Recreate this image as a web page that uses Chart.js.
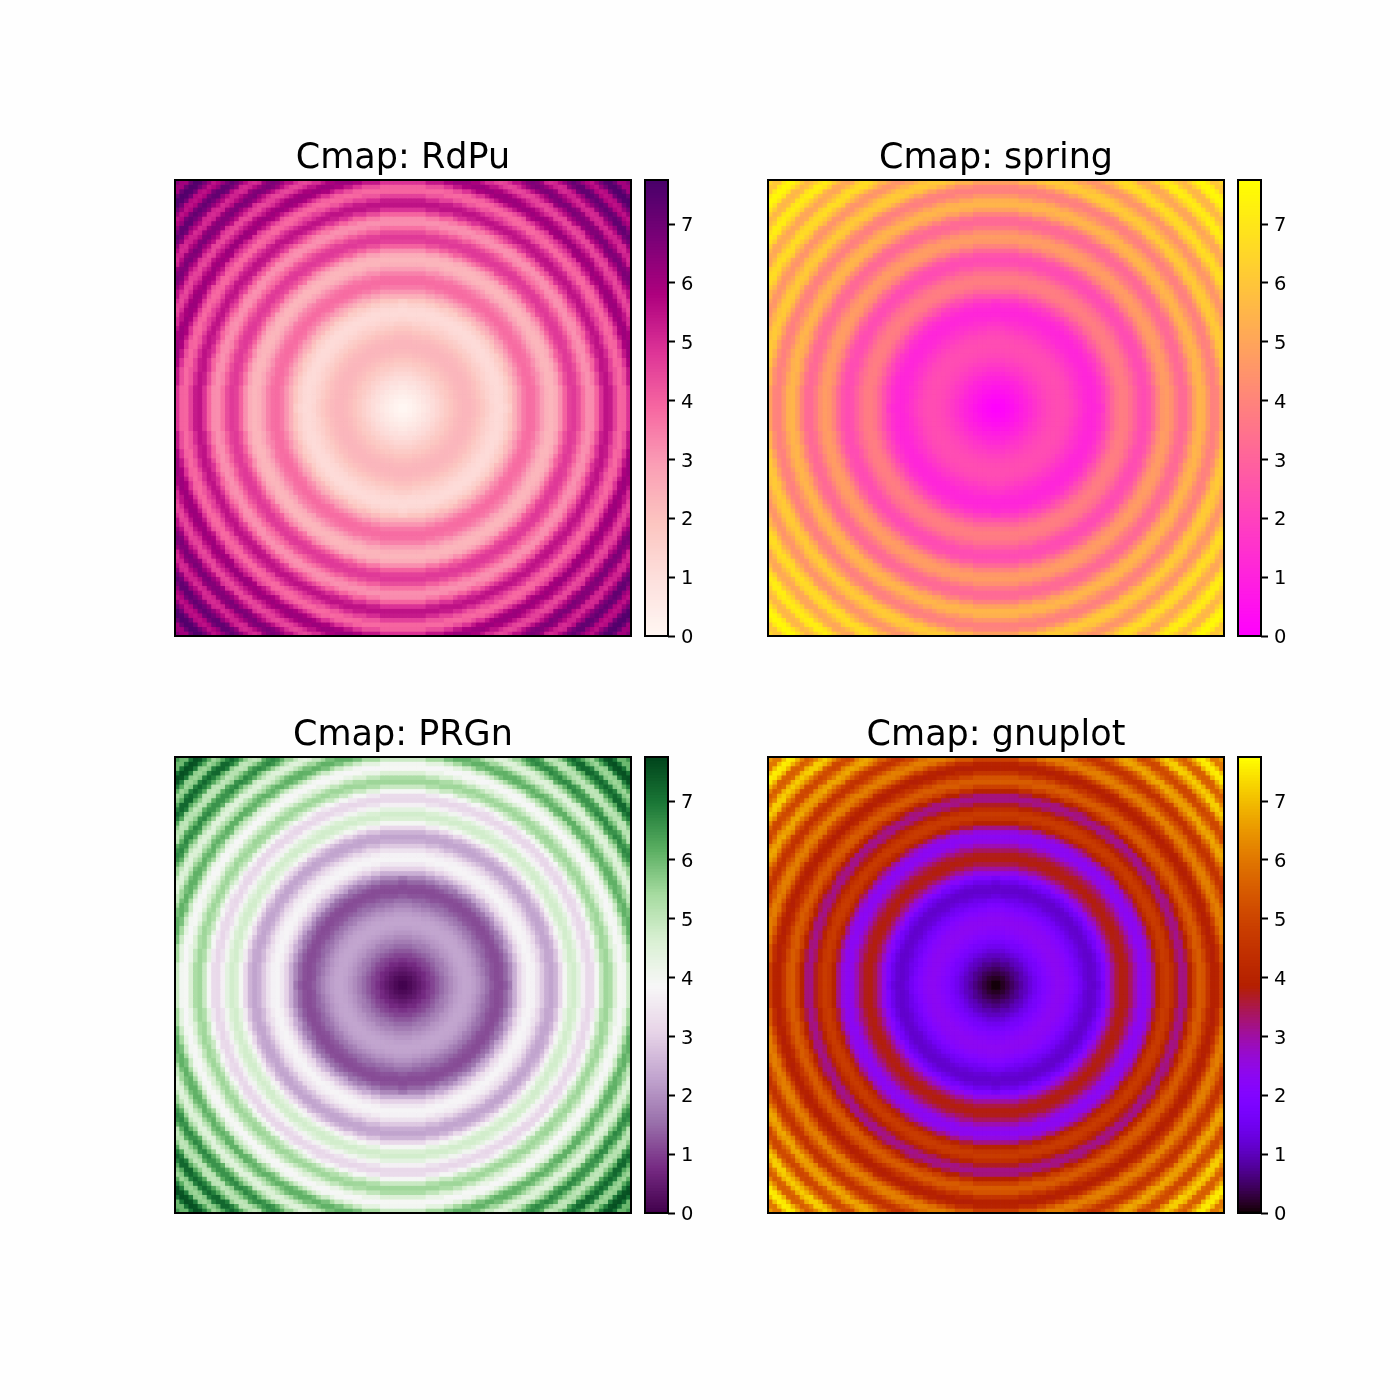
<!DOCTYPE html>
<html>
<head>
<meta charset="utf-8">
<script src="https://cdn.jsdelivr.net/npm/chart.js@4"></script>
<style>
html,body{margin:0;padding:0;background:#fefefe;width:1400px;height:1400px;overflow:hidden}
canvas{position:absolute;display:block}
</style>
</head>
<body>
<script>
// Panel titles and colour map names
const titles = ['Cmap: RdPu', 'Cmap: spring', 'Cmap: PRGn', 'Cmap: gnuplot'];
const colorbarTicks = [0, 1, 2, 3, 4, 5, 6, 7];
const valueMax = 7.75;
const gridCells = 100;
// Grid spacing of a cell in the units of the radial table
const cellUnit = 10 / 99;
const profileStep = 0.05;

// Value read along a radius, one entry per profileStep
const radialProfile = [
0,.05,.11,.17,.24,.31,.39,.47,.56,.65,.75,.85,.95,1.06,1.17,1.28,1.40,1.51,1.62,1.73,
1.84,1.94,2.04,2.12,2.19,2.25,2.29,2.32,2.33,2.31,2.28,2.22,2.15,2.06,1.95,1.83,1.70,1.57,1.45,1.34,
1.24,1.18,1.15,1.15,1.21,1.31,1.46,1.66,1.90,2.17,2.47,2.77,3.06,3.32,3.55,3.71,3.80,3.81,3.75,3.62,
3.41,3.17,2.92,2.67,2.47,2.34,2.31,2.38,2.55,2.83,3.19,3.59,3.98,4.34,4.60,4.75,4.75,4.62,4.38,4.05,
3.71,3.41,3.21,3.15,3.26,3.54,3.95,4.42,4.89,5.27,5.49,5.51,5.34,5.01,4.60,4.21,3.93,3.85,4.00,4.36,
4.87,5.41,5.87,6.13,6.14,5.90,5.48,5.01,4.63,4.46,4.58,4.97,5.54,6.14,6.58,6.75,6.59,6.18,5.65,5.20,
5.01,5.16,5.63,6.27,6.88,7.23,7.21,6.85,6.28,5.76,5.51,5.67,6.19,6.89,7.49,7.75,7.57,7.05,6.43,6.02,
6.05,6.52,7.24
];

// Colour map anchor tables
const rdpuStops = ['#fff7f3','#fde0dd','#fcc5c0','#fa9fb5','#f768a1','#dd3497','#ae017e','#7a0177','#49006a'];
const springStops = ['#ff00ff','#ffff00'];
const prgnStops = ['#40004b','#762a83','#9970ab','#c2a5cf','#e7d4e8','#f7f7f7','#d9f0d3','#a6dba0','#5aae61','#1b7837','#00441b'];

function hexRgb(h){return [parseInt(h.slice(1,3),16),parseInt(h.slice(3,5),16),parseInt(h.slice(5,7),16)];}
function fromStops(stops){
  const rgb = stops.map(hexRgb);
  return t => {
    const p = Math.min(Math.max(t,0),1)*(rgb.length-1);
    const i = Math.min(Math.floor(p), rgb.length-2), f = p-i;
    return `rgb(${[0,1,2].map(k=>Math.round(rgb[i][k]+(rgb[i+1][k]-rgb[i][k])*f)).join(',')})`;
  };
}
function gnuplotMap(t){
  t = Math.min(Math.max(t,0),1);
  const r = Math.sqrt(t), g = t*t*t, b = Math.max(Math.sin(2*Math.PI*t),0);
  return `rgb(${Math.round(r*255)},${Math.round(g*255)},${Math.round(b*255)})`;
}
const colorMaps = [fromStops(rdpuStops), fromStops(springStops), fromStops(prgnStops), gnuplotMap];

// Panel placement in the page
const panelLefts = [175, 768, 175, 768];
const panelTops = [180, 180, 757, 757];
const panelSize = 456;
const barGap = 14, barWidth = 23;
const titleSize = 35, titleGap = 2;

const framePlugin = {
  id:'frame',
  afterDraw(chart){
    const a = chart.chartArea, c = chart.ctx;
    c.save(); c.strokeStyle='#000'; c.lineWidth=2;
    c.strokeRect(a.left,a.top,a.right-a.left,a.bottom-a.top);
    c.restore();
  }
};

// Softens the seams between neighbouring cells, as the resampled reference image shows
const softenPlugin = {
  id:'soften',
  afterDatasetsDraw(chart){
    const a = chart.chartArea, c = chart.ctx, w = a.right-a.left, h = a.bottom-a.top;
    const snap = document.createElement('canvas');
    snap.width = chart.canvas.width; snap.height = chart.canvas.height;
    snap.getContext('2d').drawImage(chart.canvas,0,0);
    c.save();
    c.beginPath(); c.rect(a.left,a.top,w,h); c.clip();
    c.filter='blur(0.6px)';
    c.drawImage(snap,0,0,snap.width,snap.height,0,0,chart.width,chart.height);
    c.restore();
  }
};

function addCanvas(left,top,w,h){
  const cv = document.createElement('canvas');
  cv.width=w; cv.height=h;
  cv.style.left=left+'px'; cv.style.top=top+'px';
  cv.style.width=w+'px'; cv.style.height=h+'px';
  document.body.appendChild(cv);
  return cv.getContext('2d');
}

// One grid of cells: every cell takes the table entry of its ring
const cells = [];
const mid = (gridCells-1)/2;
for(let j=0;j<gridCells;j++){
  for(let i=0;i<gridCells;i++){
    const d = Math.hypot(i-mid,j-mid)*cellUnit;
    const idx = Math.min(Math.round(d/profileStep), radialProfile.length-1);
    cells.push({x:i,y:j,v:radialProfile[idx]});
  }
}

const levels = [];
for(let k=0;k<160;k++) levels.push((k+0.5)*valueMax/160);

titles.forEach((title,p)=>{
  const map = colorMaps[p];
  const pad = 6;
  const titleBlock = Math.round(titleSize*1.2)+titleGap;
  const ctx = addCanvas(panelLefts[p]-pad, panelTops[p]-pad-titleBlock, panelSize+2*pad, panelSize+2*pad+titleBlock);
  new Chart(ctx,{
    type:'scatter',
    data:{datasets:[{
      data:cells.map(c=>({x:c.x,y:c.y})),
      pointStyle:'rect',
      pointRadius:3.45,
      pointBorderWidth:0,
      pointHoverRadius:3.45,
      pointBackgroundColor:cells.map(c=>map(c.v/valueMax)),
      showLine:false
    }]},
    options:{
      responsive:false,animation:false,events:[],parsing:false,
      layout:{padding:{left:pad,right:pad,top:0,bottom:pad}},
      plugins:{
        legend:{display:false},tooltip:{enabled:false},
        title:{display:true,text:title,color:'#000',
          font:{family:'DejaVu Sans',size:titleSize,weight:'normal',lineHeight:1.2},
          padding:{top:8,bottom:titleGap-2}}
      },
      scales:{
        x:{type:'linear',display:false,min:-0.5,max:gridCells-0.5},
        y:{type:'linear',display:false,min:-0.5,max:gridCells-0.5}
      }
    },
    plugins:[softenPlugin,framePlugin]
  });

  const vPad = 20, axisW = 46;
  const barCtx = addCanvas(panelLefts[p]+panelSize+barGap-pad, panelTops[p]-vPad, pad+barWidth+axisW, panelSize+2*vPad);
  new Chart(barCtx,{
    type:'bar',
    data:{datasets:[{
      data:levels.map(v=>({x:1,y:v})),
      backgroundColor:levels.map(v=>map(v/valueMax)),
      borderWidth:0,
      barThickness:4
    }]},
    options:{
      indexAxis:'y',
      responsive:false,animation:false,events:[],
      layout:{padding:{left:pad,right:0,top:vPad,bottom:vPad}},
      plugins:{legend:{display:false},tooltip:{enabled:false},title:{display:false}},
      scales:{
        x:{type:'linear',display:false,min:0,max:1,offset:false},
        y:{type:'linear',position:'right',min:0,max:valueMax,offset:false,
          afterBuildTicks(s){s.ticks=colorbarTicks.map(v=>({value:v}));},
          afterFit(s){s.width=axisW;},
          border:{display:false},
          grid:{display:true,drawOnChartArea:false,drawTicks:true,tickLength:7,tickColor:'#000',tickWidth:2,offset:false},
          ticks:{color:'#000',padding:6,autoSkip:false,maxRotation:0,labelOffset:2,
            font:{family:'DejaVu Sans',size:19.5},
            callback:v=>String(v)}
        }
      }
    },
    plugins:[framePlugin]
  });
});
</script>
</body>
</html>
